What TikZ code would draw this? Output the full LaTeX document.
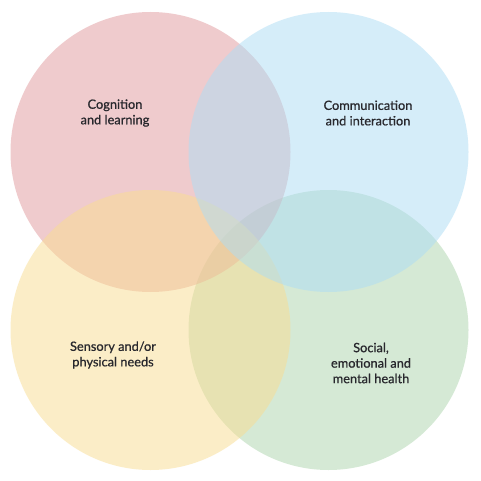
\documentclass[tikz,border=0pt]{standalone}
\usepackage{fontspec}
\setmainfont{Lato}
\newfontfamily\labelfont{Lato}[FakeBold=0.7]
\definecolor{cogpink}{RGB}{225,153,157}
\definecolor{comblue}{RGB}{173,221,245}
\definecolor{senyellow}{RGB}{249,221,145}
\definecolor{socgreen}{RGB}{173,213,173}
\definecolor{labelgray}{RGB}{40,40,45}
\tikzset{
  area/.style={fill opacity=0.5},
  label text/.style={align=center, text=labelgray, font=\labelfont\fontsize{12.8}{15.5}\selectfont}
}
\begin{document}
\begin{tikzpicture}[x=1pt,y=-1pt]
  \useasboundingbox (0,0) rectangle (480,481);
  \fill[white] (0,0) rectangle (480,481);
  \coordinate (CL) at (150.5,152);
  \coordinate (CI) at (328.5,152);
  \coordinate (SP) at (150.5,330);
  \coordinate (SE) at (328.5,330);
  \fill[socgreen,area] (SE) circle (140);
  \fill[cogpink,area] (CL) circle (140);
  \fill[senyellow,area] (SP) circle (140);
  \fill[comblue,area] (CI) circle (140);
  \node[label text] (cog) at (115,113) {Cognition\\and learning};
  \node[label text] (com) at (368,113) {Communication\\and interaction};
  \node[label text] (sen) at (113,355) {Sensory and/or\\physical needs};
  \node[label text] (soc) at (371,363) {Social,\\emotional and\\mental health};
\end{tikzpicture}
\end{document}
